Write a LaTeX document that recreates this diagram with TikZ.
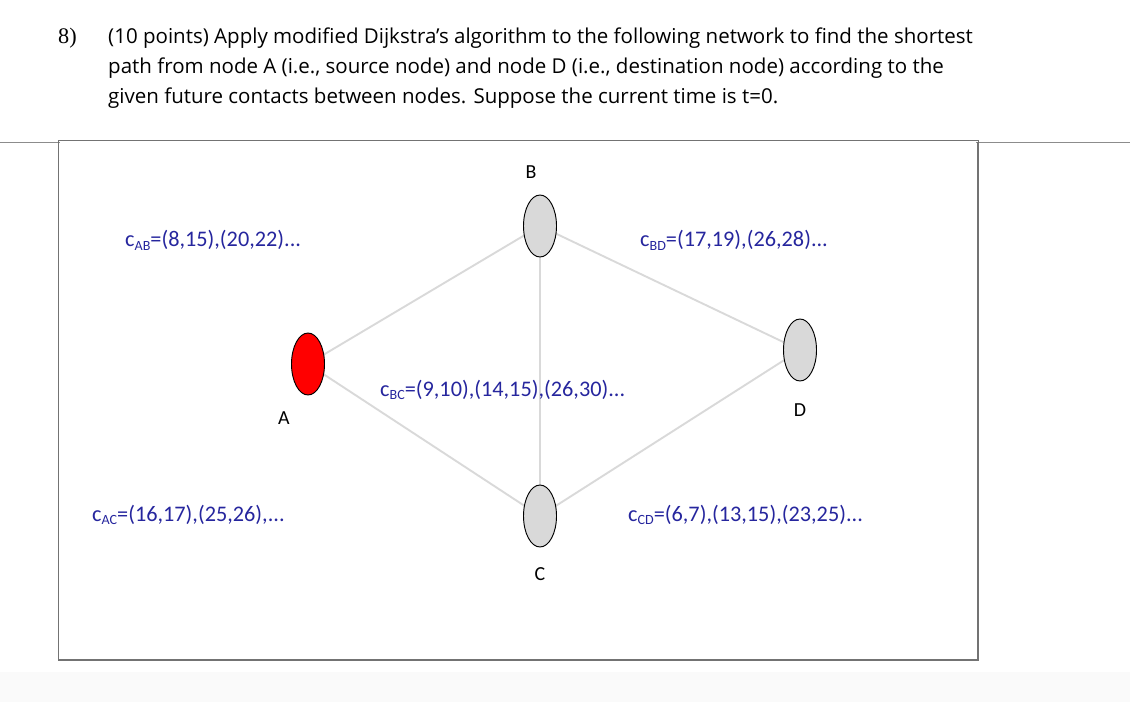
\documentclass[tikz,border=0pt]{standalone}
\usepackage{fontspec}
\usetikzlibrary{shapes.geometric}
\setmainfont{Open Sans}
\newfontfamily\calfont{Carlito}
\newfontfamily\numfont{Liberation Serif}
\newcommand{\subl}[1]{\raisebox{-0.35ex}{\fontsize{12}{12}\selectfont #1}}
\begin{document}
\begin{tikzpicture}[x=0.03cm,y=-0.03cm,
  vert/.style={draw=black,thick,ellipse,minimum width=33*0.03cm,minimum height=62*0.03cm,inner sep=0pt},
  edge/.style={draw=black!15,line width=1.6pt},
  lbl/.style={font=\calfont\fontsize{19}{22}\selectfont,text=blue!55!black!85,anchor=west,inner sep=0pt},
  nlab/.style={font=\calfont\fontsize{17}{20}\selectfont,inner sep=0pt},
  head/.style={font=\fontsize{17.5}{21}\selectfont,anchor=west,inner sep=0pt}]
\useasboundingbox (0,0) rectangle (1130,702);
\fill[black!2] (0,672) rectangle (1130,702);
\draw[black!45,line width=0.8pt] (0,142) -- (1130,142);
\fill[white] (60,141) rectangle (976,658);
\draw[black!55,line width=0.8pt] (58,140) rectangle (978,660);
\draw[black!55,line width=2pt] (58,660) -- (978,660) -- (978,142);
\node[head,font=\numfont\fontsize{19}{21}\selectfont] (n8) at (58,38) {8)};
\node[head] (h1) at (108,38) {(10 points) Apply modified Dijkstra’s algorithm to the following network to find the shortest};
\node[head] (h2) at (108,68) {path from node A (i.e., source node) and node D (i.e., destination node) according to the};
\node[head] (h3) at (108,98) {given future contacts between nodes. Suppose the current time is t=0.};
\coordinate (pA) at (308,364);
\coordinate (pB) at (540,226);
\coordinate (pC) at (540,516);
\coordinate (pD) at (800,350);
\draw[edge] (pA) -- (pB) (pB) -- (pD) (pB) -- (pC) (pA) -- (pC) (pC) -- (pD);
\node[vert,fill=red] (A) at (pA) {};
\node[vert,fill=black!15] (B) at (pB) {};
\node[vert,fill=black!15] (C) at (pC) {};
\node[vert,fill=black!15] (D) at (pD) {};
\node[nlab] (lA) at (284,418) {A};
\node[nlab] (lB) at (531,172) {B};
\node[nlab] (lC) at (540,574) {C};
\node[nlab] (lD) at (800,410) {D};
\node[lbl] (cab) at (125,240) {c\subl{AB}=(8,15),(20,22)...};
\node[lbl] (cbd) at (640,240) {c\subl{BD}=(17,19),(26,28)...};
\node[lbl] (cbc) at (380,390) {c\subl{BC}=(9,10),(14,15),(26,30)...};
\node[lbl] (cac) at (92,515) {c\subl{AC}=(16,17),(25,26),...};
\node[lbl] (ccd) at (628,515) {c\subl{CD}=(6,7),(13,15),(23,25)...};
\end{tikzpicture}
\end{document}
